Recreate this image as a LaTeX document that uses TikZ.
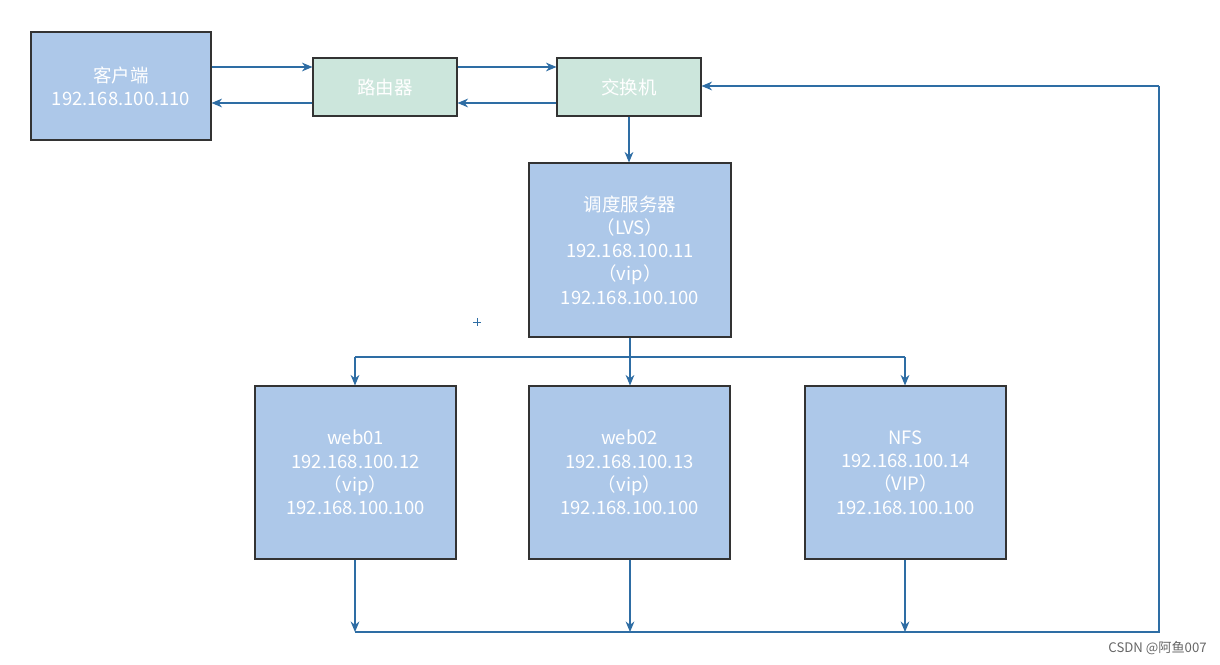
\documentclass[tikz,border=0pt]{standalone}
\usepackage{fontspec}
\setmainfont{Noto Sans CJK SC}
\usetikzlibrary{arrows.meta}
\definecolor{boxb}{HTML}{ADC8E9}
\definecolor{boxg}{HTML}{CCE6DC}
\definecolor{ln}{HTML}{2E6DA4}
\begin{document}
\begin{tikzpicture}[x=0.02cm,y=-0.02cm,
  box/.style={draw=black!80,line width=0.6pt,fill=boxb,text=white,font=\fontsize{10.5}{13.2}\selectfont,align=center,inner sep=0pt},
  gbox/.style={box,fill=boxg},
  ar/.style={draw=ln,line width=0.7pt,-{Stealth[length=6pt,width=5pt]}},
  ln/.style={draw=ln,line width=0.7pt}]
\useasboundingbox (0,0) rectangle (1220,665);
\node[box,minimum width=180*0.02cm,minimum height=108*0.02cm] (c) at (121,86) {客户端\\192.168.100.110};
\node[gbox,minimum width=144*0.02cm,minimum height=58*0.02cm] (r) at (385,87) {路由器};
\node[gbox,minimum width=144*0.02cm,minimum height=58*0.02cm] (s) at (629,87) {交换机};
\node[box,minimum width=202*0.02cm,minimum height=174*0.02cm] (l) at (630,250) {调度服务器\\（LVS）\\192.168.100.11\\（vip）\\192.168.100.100};
\node[box,minimum width=201*0.02cm,minimum height=173*0.02cm] (w1) at (355.5,472.5) {web01\\192.168.100.12\\（vip）\\192.168.100.100};
\node[box,minimum width=201*0.02cm,minimum height=173*0.02cm] (w2) at (629.5,472.5) {web02\\192.168.100.13\\（vip）\\192.168.100.100};
\node[box,minimum width=201*0.02cm,minimum height=173*0.02cm] (n) at (905.5,472.5) {NFS\\192.168.100.14\\（VIP）\\192.168.100.100};
\draw[ar] (c.east|-0,67) -- (r.west|-0,67);
\draw[ar] (r.west|-0,103) -- (c.east|-0,103);
\draw[ar] (r.east|-0,67) -- (s.west|-0,67);
\draw[ar] (s.west|-0,103) -- (r.east|-0,103);
\draw[ar] (s.south-|629,0) -- (l.north-|629,0);
\coordinate (j1) at (355,357); \coordinate (j2) at (905,357);
\draw[ln] (l.south) -- (630,357);
\draw[ln] (j1) -- (j2);
\draw[ar] (j1) -- (w1.north-|355,0);
\draw[ar] (630,357) -- (w2.north-|630,0);
\draw[ar] (j2) -- (n.north-|905,0);
\coordinate (b1) at (355,632); \coordinate (b2) at (630,632); \coordinate (b3) at (905,632);
\coordinate (bc) at (1159,632); \coordinate (tc) at (1159,86);
\draw[ar] (w1.south-|355,0) -- (b1);
\draw[ar] (w2.south-|630,0) -- (b2);
\draw[ar] (n.south-|905,0) -- (b3);
\draw[ln] (b1) -- (bc) -- (tc);
\draw[ar] (tc) -- (s.east|-tc);
\draw[ln,line width=0.5pt] (473,322) -- (481,322) (477,318) -- (477,326);
\node[anchor=east,text=black!60,font=\fontsize{7.5}{9}\selectfont,inner sep=0pt] at (1207,648) {CSDN @阿鱼007};
\end{tikzpicture}
\end{document}
